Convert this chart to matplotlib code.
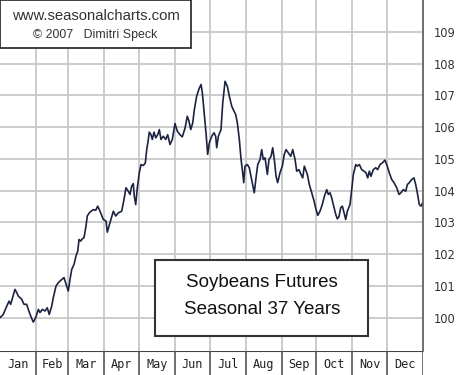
import matplotlib
matplotlib.use("Agg")
import matplotlib.pyplot as plt
from matplotlib.patches import Rectangle

# seasonal pattern, day of year vs index value
days = [0, 2.8, 5.8, 7.8, 9.2, 10.6, 12.9, 14.4, 15.8, 18.7, 20.7, 23.0, 24.4, 26.5, 28.7,
        30.8, 33.1, 34.5, 36.5, 38.8, 40.8, 42.5, 44.6, 46.0, 48.3, 50.3, 53.2, 55.2, 57.0,
        58.9, 60.4, 61.9, 63.9, 65.6, 67.1, 68.2, 69.6, 71.0, 72.5, 74.2, 75.3, 77.1, 78.5,
        80.5, 82.6, 84.3, 86.3, 89.1, 91.5, 92.6, 94.9, 97.8, 99.8, 102.1, 105.0, 107.0,
        108.7, 110.7, 112.2, 113.6, 115.0, 115.9, 117.1, 118.5, 120.2, 121.7, 123.7, 125.4,
        126.6, 128.0, 128.8, 130.3, 131.4, 132.9, 134.4, 136.1, 137.5, 138.9, 140.9, 143.0,
        144.7, 146.7, 148.7, 151.0, 153.0, 155.3, 157.3, 159.7, 161.6, 163.1, 164.6, 166.3,
        167.7, 169.7, 171.7, 173.5, 174.6, 176.3, 177.8, 179.2, 180.6, 182.7, 184.7, 186.1,
        187.0, 188.4, 190.7, 192.2, 194.2, 196.2, 197.9, 200.0, 201.3, 203.4, 204.8, 206.5,
        208.0, 209.4, 210.3, 211.4, 213.4, 215.1, 216.6, 218.1, 219.4, 220.9, 222.4, 224.4,
        225.8, 227.2, 228.7, 230.7, 232.1, 233.9, 235.3, 236.7, 238.2, 239.6, 241.6, 243.6,
        245.3, 246.8, 248.8, 250.9, 252.6, 254.6, 256.0, 258.0, 259.7, 261.2, 262.6, 265.2,
        266.9, 269.0, 271.0, 272.7, 274.2, 276.1, 278.1, 279.9, 281.9, 283.3, 284.8, 286.2,
        287.6, 289.7, 291.1, 292.5, 294.0, 295.4, 296.9, 298.3, 299.7, 302.0, 303.5, 304.9,
        307.0, 308.3, 310.1, 312.1, 314.1, 315.8, 317.3, 318.7, 320.1, 322.1, 324.2, 325.9,
        327.9, 329.9, 332.2, 334.2, 335.9, 338.0, 340.0, 342.3, 344.3, 346.0, 348.0, 350.1,
        351.5, 353.2, 355.3, 357.2, 358.7, 360.1, 361.8, 363.3, 364.8]
values = [100.0, 100.1, 100.36, 100.52, 100.42, 100.6, 100.89, 100.79, 100.68, 100.58, 100.42,
          100.42, 100.26, 100.05, 99.86, 100.0, 100.26, 100.16, 100.26, 100.21, 100.31, 100.1,
          100.36, 100.63, 100.99, 101.1, 101.2, 101.26, 101.05, 100.84, 101.2, 101.52, 101.68,
          101.94, 102.1, 102.46, 102.41, 102.48, 102.52, 102.88, 103.2, 103.3, 103.35, 103.4,
          103.38, 103.51, 103.35, 103.09, 103.04, 102.69, 102.99, 103.35, 103.2, 103.3, 103.35,
          103.72, 104.09, 103.98, 103.88, 104.14, 104.22, 103.82, 103.56, 104.09, 104.56,
          104.82, 104.79, 104.87, 105.29, 105.61, 105.84, 105.76, 105.61, 105.84, 105.66,
          105.76, 105.92, 105.61, 105.71, 105.61, 105.76, 105.45, 105.61, 106.11, 105.87,
          105.76, 105.69, 105.97, 106.34, 106.18, 105.92, 106.13, 106.55, 106.97, 107.2,
          107.34, 107.08, 106.4, 105.8, 105.14, 105.5, 105.71, 105.82, 105.71, 105.35, 105.71,
          105.92, 106.76, 107.44, 107.28, 106.97, 106.65, 106.55, 106.39, 106.13, 105.61,
          104.98, 104.56, 104.25, 104.77, 104.82, 104.72, 104.45, 104.19, 103.93, 104.4,
          104.82, 104.98, 105.29, 104.98, 105.03, 104.51, 104.98, 105.08, 105.35, 104.98,
          104.45, 104.25, 104.56, 104.77, 105.14, 105.29, 105.19, 105.08, 105.29, 104.98,
          104.61, 104.66, 104.51, 104.4, 104.77, 104.51, 104.19, 103.93, 103.67, 103.41,
          103.22, 103.35, 103.56, 103.82, 104.03, 103.88, 103.93, 103.77, 103.56, 103.25,
          103.11, 103.18, 103.46, 103.51, 103.3, 103.09, 103.35, 103.56, 104.03, 104.51,
          104.82, 104.77, 104.82, 104.66, 104.61, 104.56, 104.4, 104.61, 104.45, 104.66,
          104.72, 104.66, 104.82, 104.87, 104.96, 104.77, 104.56, 104.35, 104.25, 104.09,
          103.88, 103.93, 104.03, 103.98, 104.19, 104.25, 104.35, 104.4, 104.19, 103.93,
          103.56, 103.51, 103.62]

months = ["Jan", "Feb", "Mar", "Apr", "May", "Jun", "Jul", "Aug", "Sep", "Oct", "Nov", "Dec"]
month_starts = [0, 31, 59, 90, 120, 151, 181, 212, 243, 273, 304, 334, 365]
yticks = [100, 101, 102, 103, 104, 105, 106, 107, 108, 109]

fig = plt.figure(figsize=(4.74, 3.75), dpi=100)
ax = fig.add_axes([0, 24 / 375, 423 / 474, 351 / 375])
band = fig.add_axes([0, 0, 423 / 474, 24 / 375])

ax.plot(days, values, color="#1c2340", lw=1.2)
ax.set_xlim(0, 365)
ax.set_ylim(98.95, 110.0)

# grid
for d in month_starts[1:-1]:
    ax.axvline(d, color="#c8c8c8", lw=1.3, zorder=0)
for v in yticks:
    ax.axhline(v, color="#c8c8c8", lw=1.3, zorder=0)

ax.set_xticks([])
ax.yaxis.tick_right()
ax.set_yticks(yticks)
ax.set_yticklabels([str(v) for v in yticks], fontsize=8.3, color="#333333",
                   family="DejaVu Sans")
ax.tick_params(axis="y", length=0, pad=8)
for s in ["top", "left", "bottom"]:
    ax.spines[s].set_visible(False)
ax.spines["right"].set_color("#555555")
ax.spines["right"].set_linewidth(1.2)

# month band
band.set_xlim(0, 365)
band.set_ylim(0, 1)
band.axis("off")
band.axhline(1, color="#444444", lw=1.5)
for d in month_starts[1:]:
    band.axvline(d, color="#555555", lw=1.2)
for i, m in enumerate(months):
    band.text((month_starts[i] + month_starts[i + 1]) / 2, 0.45, m, ha="center",
              va="center", fontsize=8.6, family="DejaVu Sans Mono", color="#222222")

# copyright box
ax.add_patch(Rectangle((0, 0.863), 0.4515, 0.137, transform=ax.transAxes,
                       facecolor="white", edgecolor="#333333", lw=1.3, zorder=5))
ax.text(0.2257, 0.955, "www.seasonalcharts.com", transform=ax.transAxes, ha="center",
        va="center", fontsize=10.7, family="Liberation Sans", color="#333333", zorder=6)
ax.text(0.2257, 0.900, "\u00a9 2007   Dimitri Speck", transform=ax.transAxes, ha="center",
        va="center", fontsize=8.9, family="Liberation Sans", color="#333333", zorder=6)

# title box
ax.add_patch(Rectangle((0.366, 0.0427), 0.504, 0.2163, transform=ax.transAxes,
                       facecolor="white", edgecolor="#333333", lw=1.5, zorder=5))
ax.text(0.619, 0.196, "Soybeans Futures", transform=ax.transAxes, ha="center",
        va="center", fontsize=13.5, family="Liberation Sans", color="#111111", zorder=6)
ax.text(0.619, 0.117, "Seasonal 37 Years", transform=ax.transAxes, ha="center",
        va="center", fontsize=13.5, family="Liberation Sans", color="#111111", zorder=6)

fig.savefig("out.png", dpi=100)
